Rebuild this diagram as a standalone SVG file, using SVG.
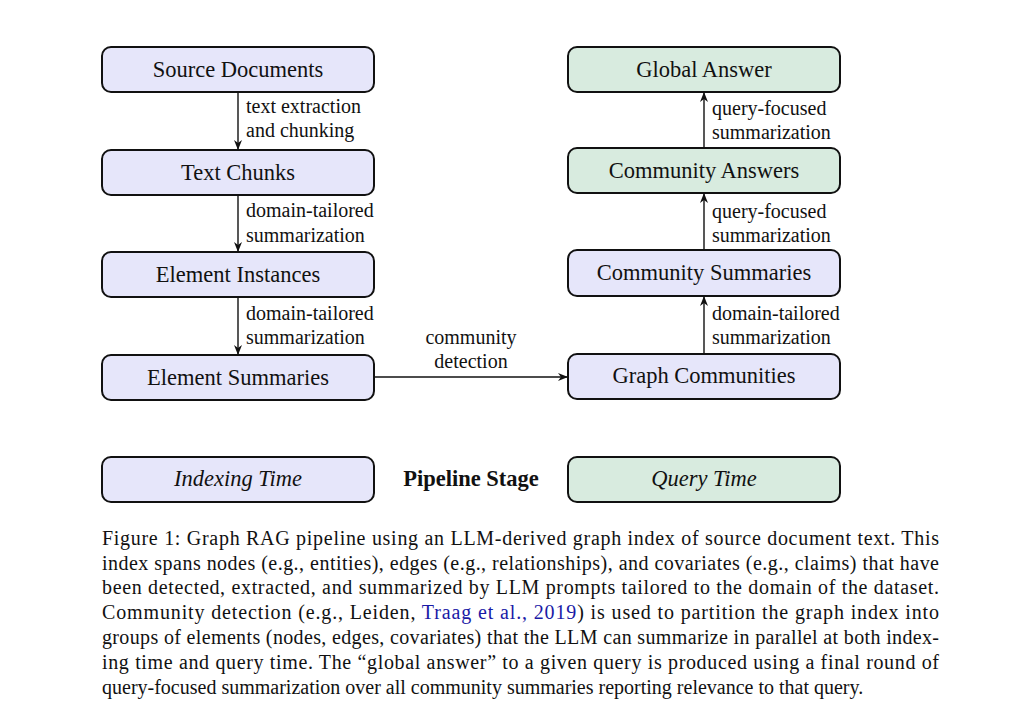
<svg xmlns="http://www.w3.org/2000/svg" width="1010" height="727" viewBox="0 0 1010 727">
<style>
text{font-family:"Liberation Serif","Times New Roman",serif;fill:#111}
.b{stroke:#111;stroke-width:2}
.p{fill:#e6e6fa}
.g{fill:#d8ebdf}
.n{font-size:22.5px;text-anchor:middle}
.l{font-size:20px}
.c{font-size:20px}
.e{stroke:#111;stroke-width:1.4;fill:none;marker-end:url(#a)}
</style>
<defs><marker id="a" markerWidth="10" markerHeight="8" refX="9" refY="4" orient="auto" markerUnits="userSpaceOnUse"><path d="M0,0 L10,4 L0,8 L3,4Z" fill="#111"/></marker></defs>
<rect width="1010" height="727" fill="#fff"/>
<g id="source"><rect class="b p" x="102" y="47" width="272" height="45" rx="9"/><text class="n" x="238" y="77">Source Documents</text></g>
<g id="chunks"><rect class="b p" x="102" y="150" width="272" height="45" rx="9"/><text class="n" x="238" y="180">Text Chunks</text></g>
<g id="instances"><rect class="b p" x="102" y="252" width="272" height="45" rx="9"/><text class="n" x="238" y="282">Element Instances</text></g>
<g id="elsum"><rect class="b p" x="102" y="355" width="272" height="45" rx="9"/><text class="n" x="238" y="385">Element Summaries</text></g>
<g id="global"><rect class="b g" x="568" y="47" width="272" height="45" rx="9"/><text class="n" x="704" y="77">Global Answer</text></g>
<g id="answers"><rect class="b g" x="568" y="148" width="272" height="45" rx="9"/><text class="n" x="704" y="178">Community Answers</text></g>
<g id="csum"><rect class="b p" x="568" y="250" width="272" height="46" rx="9"/><text class="n" x="704" y="280">Community Summaries</text></g>
<g id="gcomm"><rect class="b p" x="568" y="354" width="272" height="45" rx="9"/><text class="n" x="704" y="383">Graph Communities</text></g>
<g id="legend-index"><rect class="b p" x="102" y="457" width="272" height="45" rx="9"/><text class="n" x="238" y="486" font-style="italic">Indexing Time</text></g>
<g id="legend-stage"><text class="n" x="471" y="486" font-weight="bold">Pipeline Stage</text></g>
<g id="legend-query"><rect class="b g" x="568" y="457" width="272" height="45" rx="9"/><text class="n" x="704" y="486" font-style="italic">Query Time</text></g>
<g id="connectors">
<path class="e" d="M238,92 V149"/><path class="e" d="M238,195 V251"/><path class="e" d="M238,297 V354"/>
<path class="e" d="M374,377 H567"/>
<path class="e" d="M704,354 V297"/><path class="e" d="M704,250 V194"/><path class="e" d="M704,148 V93"/>
<text class="l" x="246" y="113">text extraction</text><text class="l" x="246" y="137">and chunking</text>
<text class="l" x="246" y="217">domain-tailored</text><text class="l" x="246" y="242">summarization</text>
<text class="l" x="246" y="320">domain-tailored</text><text class="l" x="246" y="344">summarization</text>
<text class="l" x="471" y="344" text-anchor="middle">community</text><text class="l" x="471" y="368" text-anchor="middle">detection</text>
<text class="l" x="712" y="115">query-focused</text><text class="l" x="712" y="139">summarization</text>
<text class="l" x="712" y="218">query-focused</text><text class="l" x="712" y="242">summarization</text>
<text class="l" x="712" y="320">domain-tailored</text><text class="l" x="712" y="344">summarization</text>
</g>
<g id="caption" class="c">
<text x="102" y="545" textLength="837" lengthAdjust="spacing">Figure 1: Graph RAG pipeline using an LLM-derived graph index of source document text. This</text>
<text x="102" y="570" textLength="837" lengthAdjust="spacing">index spans nodes (e.g., entities), edges (e.g., relationships), and covariates (e.g., claims) that have</text>
<text x="102" y="594" textLength="837" lengthAdjust="spacing">been detected, extracted, and summarized by LLM prompts tailored to the domain of the dataset.</text>
<text x="102" y="619" textLength="837" lengthAdjust="spacing">Community detection (e.g., Leiden, <tspan fill="#1a1aa6">Traag et al., 2019</tspan>) is used to partition the graph index into</text>
<text x="102" y="644" textLength="837" lengthAdjust="spacing">groups of elements (nodes, edges, covariates) that the LLM can summarize in parallel at both index-</text>
<text x="102" y="669" textLength="837" lengthAdjust="spacing">ing time and query time. The “global answer” to a given query is produced using a final round of</text>
<text x="102" y="694">query-focused summarization over all community summaries reporting relevance to that query.</text>
</g>
</svg>
